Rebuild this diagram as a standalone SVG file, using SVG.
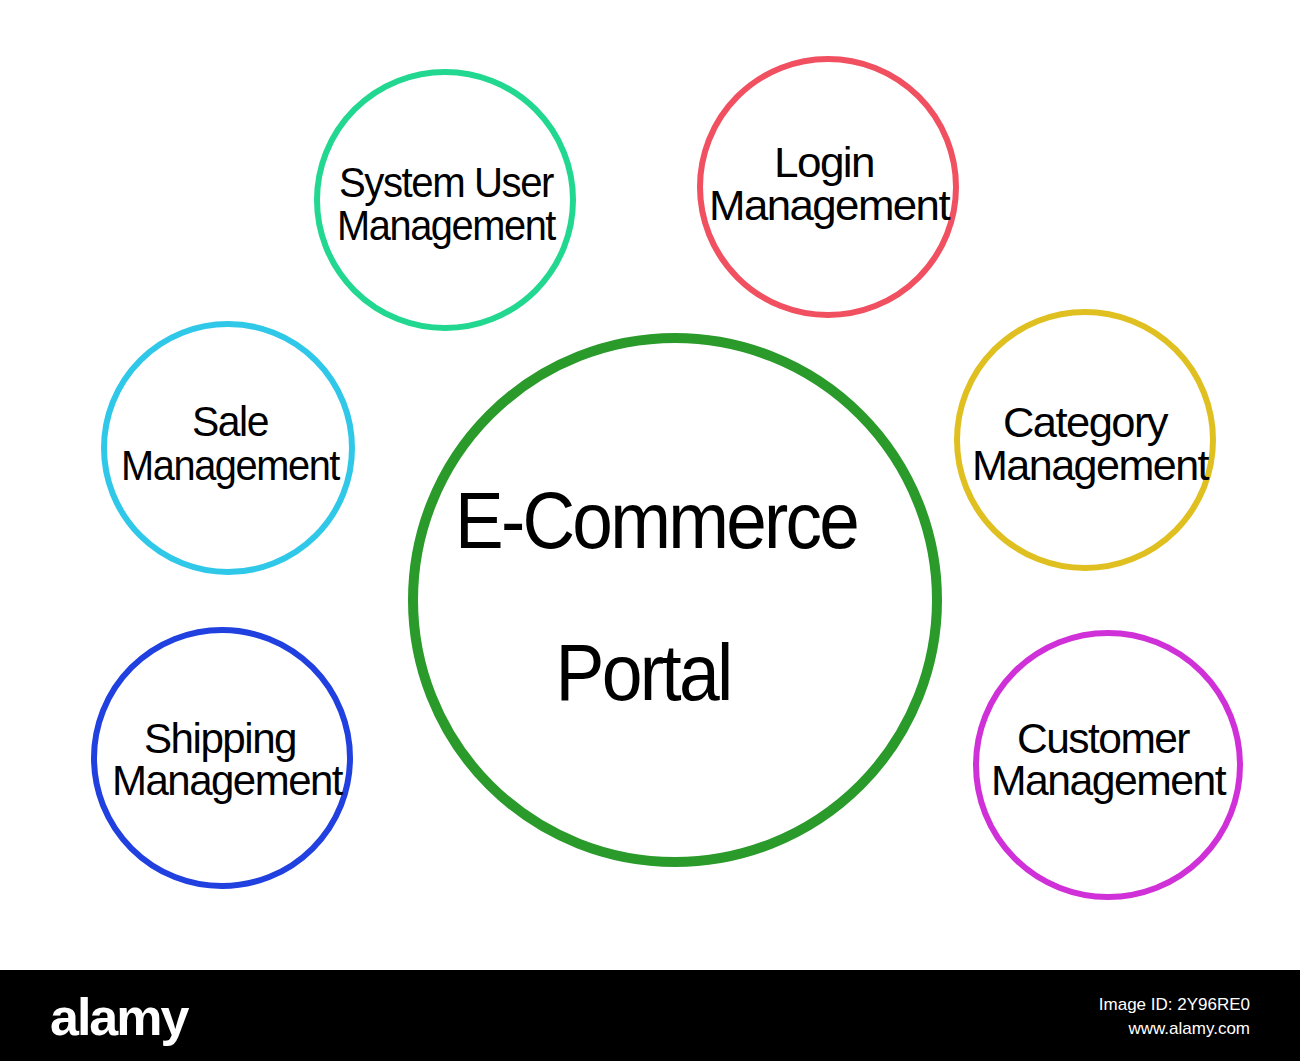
<svg xmlns="http://www.w3.org/2000/svg" width="1300" height="1061" viewBox="0 0 1300 1061">
<style>
.c{fill:none;stroke-linecap:round}
.t{font-family:"Liberation Sans Narrow","Liberation Sans",Arial,sans-serif;fill:#000;text-anchor:middle}
.s{font-size:42px;letter-spacing:-1.5px}
.b{font-size:80px;letter-spacing:-3px}
</style>
<rect width="1300" height="1061" fill="#fff"/>
<g id="center"><circle class="c" cx="675" cy="600" r="262" stroke="#2a9a2a" stroke-width="10"/>
<text class="t b" x="656" y="548" textLength="402" lengthAdjust="spacingAndGlyphs">E-Commerce</text>
<text class="t b" x="643" y="700" textLength="175" lengthAdjust="spacingAndGlyphs">Portal</text></g>
<g id="system-user"><circle class="c" cx="445" cy="200" r="128" stroke="#22d890" stroke-width="6"/>
<text class="t s" x="446" y="197" textLength="214" lengthAdjust="spacingAndGlyphs">System User</text>
<text class="t s" x="446" y="240" textLength="218" lengthAdjust="spacingAndGlyphs">Management</text></g>
<g id="login"><circle class="c" cx="828" cy="187" r="128" stroke="#f05060" stroke-width="6"/>
<text class="t s" x="824" y="177" textLength="100" lengthAdjust="spacingAndGlyphs">Login</text>
<text class="t s" x="829" y="220" textLength="240" lengthAdjust="spacingAndGlyphs">Management</text></g>
<g id="sale"><circle class="c" cx="228" cy="448" r="124" stroke="#30c8e8" stroke-width="6"/>
<text class="t s" x="230" y="436" textLength="76" lengthAdjust="spacingAndGlyphs">Sale</text>
<text class="t s" x="230" y="480" textLength="218" lengthAdjust="spacingAndGlyphs">Management</text></g>
<g id="category"><circle class="c" cx="1085" cy="440" r="128" stroke="#e0c020" stroke-width="6"/>
<text class="t s" x="1085" y="437" textLength="164" lengthAdjust="spacingAndGlyphs">Category</text>
<text class="t s" x="1090" y="480" textLength="236" lengthAdjust="spacingAndGlyphs">Management</text></g>
<g id="shipping"><circle class="c" cx="222" cy="758" r="128" stroke="#2040e0" stroke-width="6"/>
<text class="t s" x="220" y="753" textLength="152" lengthAdjust="spacingAndGlyphs">Shipping</text>
<text class="t s" x="227" y="795" textLength="230" lengthAdjust="spacingAndGlyphs">Management</text></g>
<g id="customer"><circle class="c" cx="1108" cy="765" r="132" stroke="#d030d8" stroke-width="6"/>
<text class="t s" x="1103" y="753" textLength="172" lengthAdjust="spacingAndGlyphs">Customer</text>
<text class="t s" x="1108" y="795" textLength="234" lengthAdjust="spacingAndGlyphs">Management</text></g>
<g id="connectors"/>
<rect x="0" y="970" width="1300" height="91" fill="#000"/>
<text x="50" y="1035" font-family="Liberation Sans,Arial,sans-serif" font-size="52" font-weight="bold" fill="#fff" letter-spacing="-2">alamy</text>
<text x="1250" y="1010" font-family="Liberation Sans,Arial,sans-serif" font-size="17" fill="#fff" text-anchor="end">Image ID: 2Y96RE0</text>
<text x="1250" y="1034" font-family="Liberation Sans,Arial,sans-serif" font-size="17" fill="#fff" text-anchor="end">www.alamy.com</text>
</svg>
